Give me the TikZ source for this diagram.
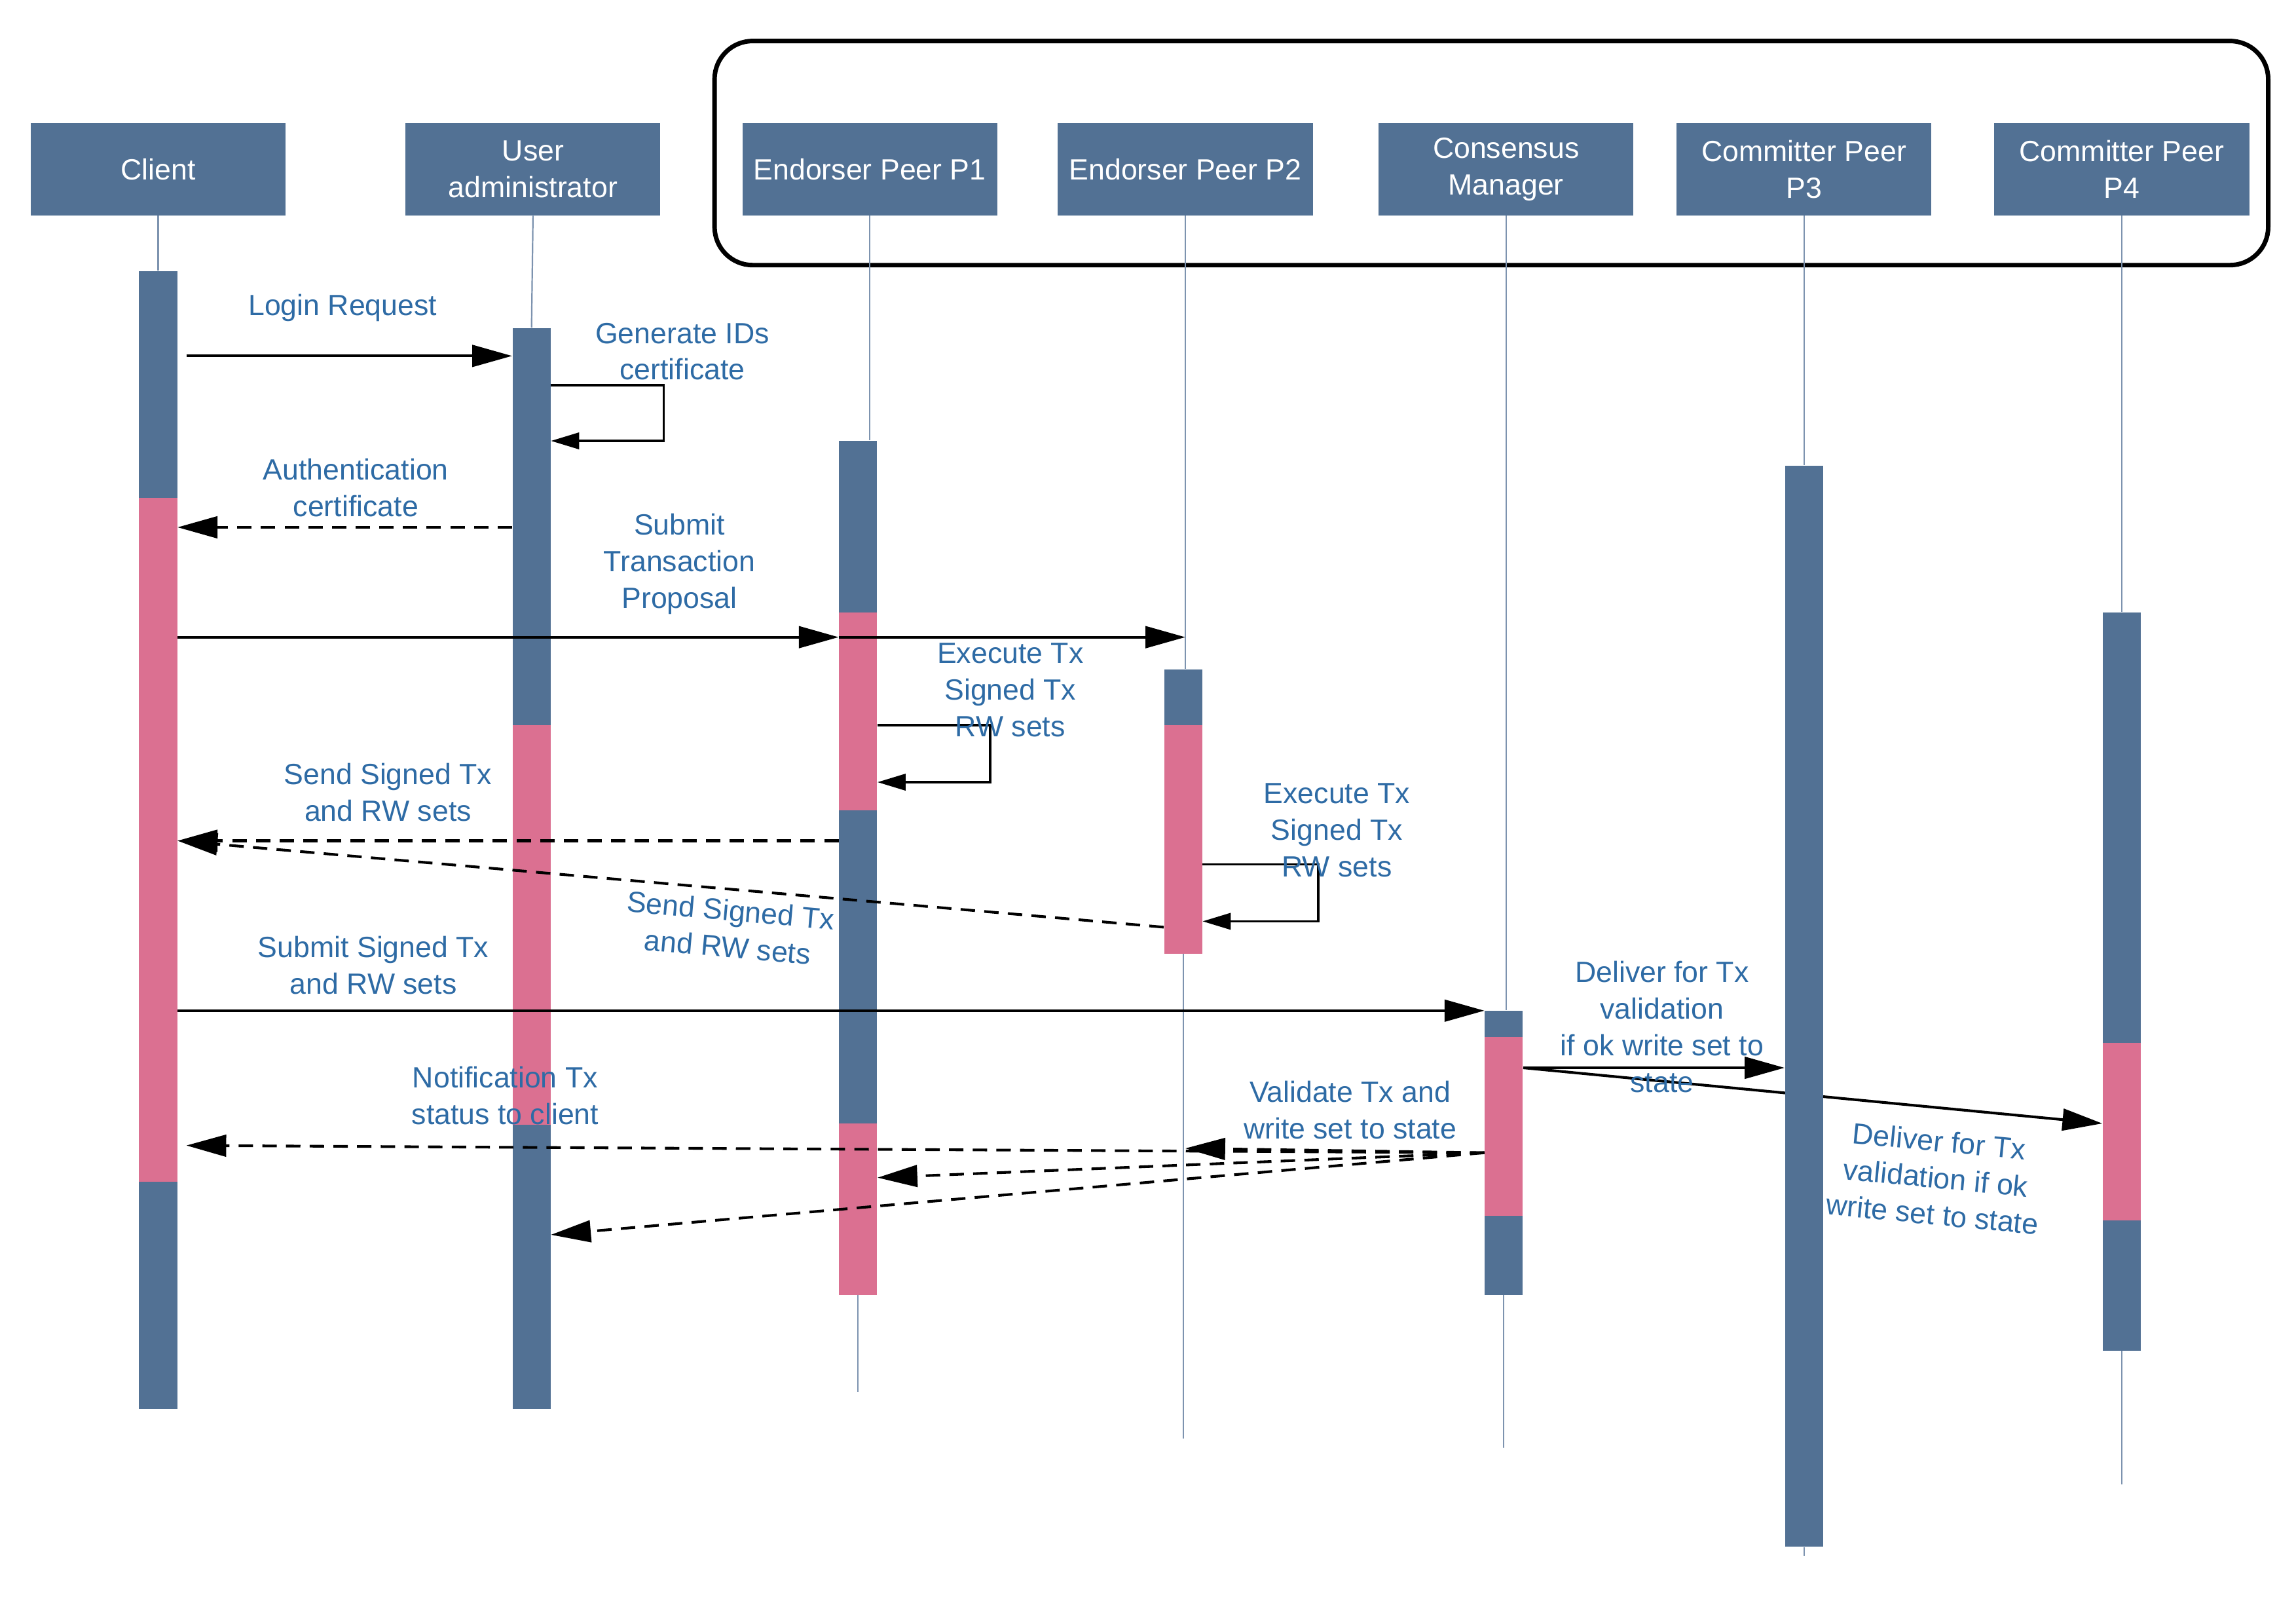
\documentclass[tikz,border=0pt]{standalone}
\usepackage{fontspec}
\setmainfont{Liberation Sans}
\usepackage{tikz}
\usetikzlibrary{arrows.meta, positioning, fit, backgrounds}

\definecolor{hdblue}{RGB}{82,113,148}
\definecolor{actpink}{RGB}{219,112,145}
\definecolor{lbltext}{RGB}{46,107,165}
\definecolor{lifegray}{RGB}{125,147,175}

\tikzstyle{actor} = [rectangle, fill=hdblue, text=white, align=center, minimum width=4.35cm, minimum height=1.575cm, inner sep=0pt, font=\fontsize{14.2}{17.8}\selectfont]
\tikzstyle{bar} = [rectangle, fill=hdblue, inner sep=0pt]
\tikzstyle{act} = [rectangle, fill=actpink, inner sep=0pt]
\tikzstyle{life} = [draw, lifegray, line width=0.7pt]
\tikzstyle{lbl} = [text=lbltext, align=center, inner sep=0pt, font=\fontsize{14.2}{17.8}\selectfont]
\tikzstyle{msg} = [draw, line width=1.3pt, -{Triangle[length=0.68cm, width=0.37cm]}]
\tikzstyle{ret} = [msg, dash pattern=on 7pt off 4.5pt]
\tikzstyle{self} = [draw, line width=1.1pt, -{Triangle[length=0.48cm, width=0.28cm]}]
\tikzstyle{group} = [draw, line width=2.2pt, rounded corners=0.65cm, inner sep=0pt]

\begin{document}
\begin{tikzpicture}[x=0.025cm, y=-0.025cm]
    \useasboundingbox (0,0) rectangle (1568,1093);

    % participants
    \node[group, fit={(488,28) (1549,181)}] (peers) {};
    \node (client) [actor] at (108,115.5) {Client};
    \node (ua) [actor] at (364,115.5) {User\\administrator};
    \node (p1) [actor] at (594,115.5) {Endorser Peer P1};
    \node (p2) [actor] at (809.5,115.5) {Endorser Peer P2};
    \node (cm) [actor] at (1028.5,115.5) {Consensus\\Manager};
    \node (p3) [actor] at (1232,115.5) {Committer Peer\\P3};
    \node (p4) [actor] at (1449,115.5) {Committer Peer\\P4};

    % activation bars
    \node[bar, fit={(95,185) (121,962)}] (cbar) {};
    \node[bar, fit={(350,224) (376,962)}] (ubar) {};
    \node[bar, fit={(573,301) (599,884)}] (p1bar) {};
    \node[bar, fit={(795,457) (821,651)}] (p2bar) {};
    \node[bar, fit={(1014,690) (1040,884)}] (cmbar) {};
    \node[bar, fit={(1219,318) (1245,1056)}] (p3bar) {};
    \node[bar, fit={(1436,418) (1462,922)}] (p4bar) {};

    \node[act, fit={(95,340) (121,807)}] (cact) {};
    \node[act, fit={(350,495) (376,768)}] (uact) {};
    \node[act, fit={(573,418) (599,553)}] (p1acta) {};
    \node[act, fit={(573,767) (599,884)}] (p1actb) {};
    \node[act, fit={(795,495) (821,651)}] (p2act) {};
    \node[act, fit={(1014,708) (1040,830)}] (cmact) {};
    \node[act, fit={(1436,712) (1462,833)}] (p4act) {};

    % lifelines
    \draw[life] (client.south) -- (cbar.north);
    \draw[life] (ua.south) -- (ubar.north);
    \draw[life] (p1.south) -- (p1.south |- p1bar.north);
    \draw[life] (p1bar.south) -- ++(0,66);
    \draw[life] (p2.south) -- (p2.south |- p2bar.north);
    \draw[life] (p2bar.south) -- ++(0,331);
    \draw[life] (cm.south) -- (cm.south |- cmbar.north);
    \draw[life] (cmbar.south) -- ++(0,104);
    \draw[life] (p3.south) -- (p3bar.north);
    \draw[life] (p3bar.south) -- ++(0,6);
    \draw[life] (p4.south) -- (p4bar.north);
    \draw[life] (p4bar.south) -- ++(0,91);

    % message levels
    \coordinate (lg) at (0,243);
    \coordinate (gia) at (0,263);
    \coordinate (gib) at (0,301);
    \coordinate (au) at (0,360);
    \coordinate (sp) at (0,435);
    \coordinate (exa) at (0,495);
    \coordinate (exb) at (0,534);
    \coordinate (sa) at (0,574);
    \coordinate (eya) at (0,590);
    \coordinate (eyb) at (0,629);
    \coordinate (sb) at (0,633);
    \coordinate (ss) at (0,690);
    \coordinate (dv) at (0,729);
    \coordinate (dw) at (0,767);
    \coordinate (vt) at (0,787);
    \coordinate (vp) at (0,784);
    \coordinate (vc) at (0,782);
    \coordinate (vq) at (0,804);
    \coordinate (vu) at (0,843);

    % messages
    \draw[msg, shorten <=0.15cm] (cbar.east |- lg) -- (ubar.west |- lg);
    \draw[self] (ubar.east |- gia) -- ++(77,0) |- (ubar.east |- gib);
    \draw[ret] (ubar.west |- au) -- (cbar.east |- au);
    \draw[msg] (cbar.east |- sp) -- (p1bar.west |- sp);
    \draw[msg] (p1bar.west |- sp) -- (p2.south |- sp);
    \draw[self] (p1bar.east |- exa) -- ++(77,0) |- (p1bar.east |- exb);
    \draw[self] (p2bar.east |- eya) -- ++(79,0) |- (p2bar.east |- eyb);
    \draw[ret] (p1bar.west |- sa) -- (cbar.east |- sa);
    \draw[ret] (p2bar.west |- sb) -- (cbar.east |- sa);
    \draw[msg] (cbar.east |- ss) -- (cmbar.west |- ss);
    \draw[msg] (cmbar.east |- dv) -- (p3bar.west |- dv);
    \begin{pgfonlayer}{background}
        \draw[msg] (cmbar.east |- dv) -- (p4bar.west |- dw);
    \end{pgfonlayer}
    \draw[ret] (cmbar.west |- vt) -- (p2.south |- vp);
    \draw[ret, shorten >=0.15cm] (cmbar.west |- vt) -- (cbar.east |- vc);
    \draw[ret] (cmbar.west |- vt) -- (p1bar.east |- vq);
    \draw[ret] (cmbar.west |- vt) -- (ubar.east |- vu);

    % labels
    \node (llogin) [lbl] at (234,210) {Login Request};
    \node (lgen) [lbl] at (466,240) {Generate IDs\\certificate};
    \node (lauth) [lbl] at (243,333) {Authentication\\certificate};
    \node (lsubmit) [lbl] at (464,385) {Submit\\Transaction\\Proposal};
    \node (lexa) [lbl] at (690,471) {Execute Tx\\Signed Tx\\RW sets};
    \node (lexb) [lbl] at (913,567) {Execute Tx\\Signed Tx\\RW sets};
    \node (lsenda) [lbl] at (265,541) {Send Signed Tx\\and RW sets};
    \node (lsendb) [lbl, rotate=-5] at (498,634) {Send Signed Tx\\and RW sets};
    \node (lss) [lbl] at (255,659) {Submit Signed Tx\\and RW sets};
    \node (ldva) [lbl] at (1135,701) {Deliver for Tx\\validation\\if ok write set to\\state};
    \node (ldvb) [lbl, rotate=-5.5] at (1322,804) {Deliver for Tx\\validation if ok\\write set to state};
    \node (lval) [lbl] at (922,758) {Validate Tx and\\write set to state};
    \node (lnote) [lbl] at (345,748) {Notification Tx\\status to client};
\end{tikzpicture}
\end{document}
